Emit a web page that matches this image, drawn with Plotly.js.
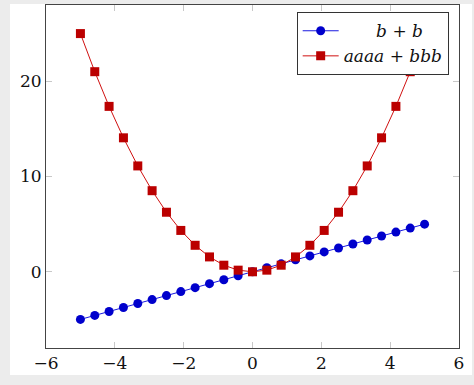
<!DOCTYPE html>
<html>
<head>
<meta charset="utf-8">
<script src="https://cdn.plot.ly/plotly-3.0.1.min.js"></script>
<style>
  html, body { margin: 0; padding: 0; background: #ececec; width: 474px; height: 385px; overflow: hidden; }
  #chart { position: absolute; left: 10px; top: 4px; width: 462px; height: 371px; background: #ffffff; }
</style>
</head>
<body>
<div id="chart"></div>
<script>
const xValues = [-5, -4.583, -4.167, -3.75, -3.333, -2.917, -2.5, -2.083, -1.667, -1.25, -0.833, -0.417, 0,
                 0.417, 0.833, 1.25, 1.667, 2.083, 2.5, 2.917, 3.333, 3.75, 4.167, 4.583, 5];
const blueValues = [-5, -4.583, -4.167, -3.75, -3.333, -2.917, -2.5, -2.083, -1.667, -1.25, -0.833, -0.417, 0,
                    0.417, 0.833, 1.25, 1.667, 2.083, 2.5, 2.917, 3.333, 3.75, 4.167, 4.583, 5];
const redValues = [25, 21.0, 17.36, 14.06, 11.11, 8.51, 6.25, 4.34, 2.78, 1.56, 0.69, 0.17, 0,
                   0.17, 0.69, 1.56, 2.78, 4.34, 6.25, 8.51, 11.11, 14.06, 17.36, 21.0, 25];
const seriesNames = ['<i>b</i> + <i>b</i>', '<i>aaaa</i> + <i>bbb</i>'];
const xTicks = [-6, -4, -2, 0, 2, 4, 6];
const yTicks = [0, 10, 20];

const serif = 'DejaVu Serif, Liberation Serif, serif';

const traces = [
  {
    x: xValues, y: blueValues, name: '&nbsp;&nbsp;&nbsp;&nbsp;&nbsp;&nbsp;' + seriesNames[0],
    type: 'scatter', mode: 'lines+markers',
    line: { color: '#1a1ae0', width: 1 },
    marker: { symbol: 'circle', size: 9, color: '#0000cc' }
  },
  {
    x: xValues, y: redValues, name: seriesNames[1],
    type: 'scatter', mode: 'lines+markers',
    line: { color: '#d01010', width: 1 },
    marker: { symbol: 'square', size: 9, color: '#bb0000' }
  }
];

const axisCommon = {
  showgrid: false, zeroline: false,
  showline: true, linecolor: '#444444', linewidth: 1, mirror: 'ticks',
  ticks: 'inside', ticklen: 6, tickcolor: '#c8c8c8', tickwidth: 1,
  tickfont: { family: serif, size: 17, color: '#111111' },
  automargin: false
};

const layout = {
  width: 462, height: 371,
  margin: { l: 36, r: 13, t: 1.3, b: 27.3 },
  paper_bgcolor: '#ffffff', plot_bgcolor: '#ffffff',
  showlegend: true,
  xaxis: Object.assign({}, axisCommon, {
    range: [-6, 6], tickmode: 'array', tickvals: xTicks,
    ticktext: xTicks.map(v => v < 0 ? '\u2212' + Math.abs(v) : String(v))
  }),
  yaxis: Object.assign({}, axisCommon, {
    range: [-8, 28], tickmode: 'array', tickvals: yTicks,
    ticktext: yTicks.map(String)
  }),
  legend: {
    x: 0.975, y: 0.979, xanchor: 'right', yanchor: 'top',
    bgcolor: '#ffffff', bordercolor: '#333333', borderwidth: 1,
    font: { family: serif, size: 17, color: '#111111' },
    itemwidth: 36,
    tracegroupgap: 0
  }
};

Plotly.newPlot('chart', traces, layout, { staticPlot: true, displayModeBar: false });
</script>
</body>
</html>
